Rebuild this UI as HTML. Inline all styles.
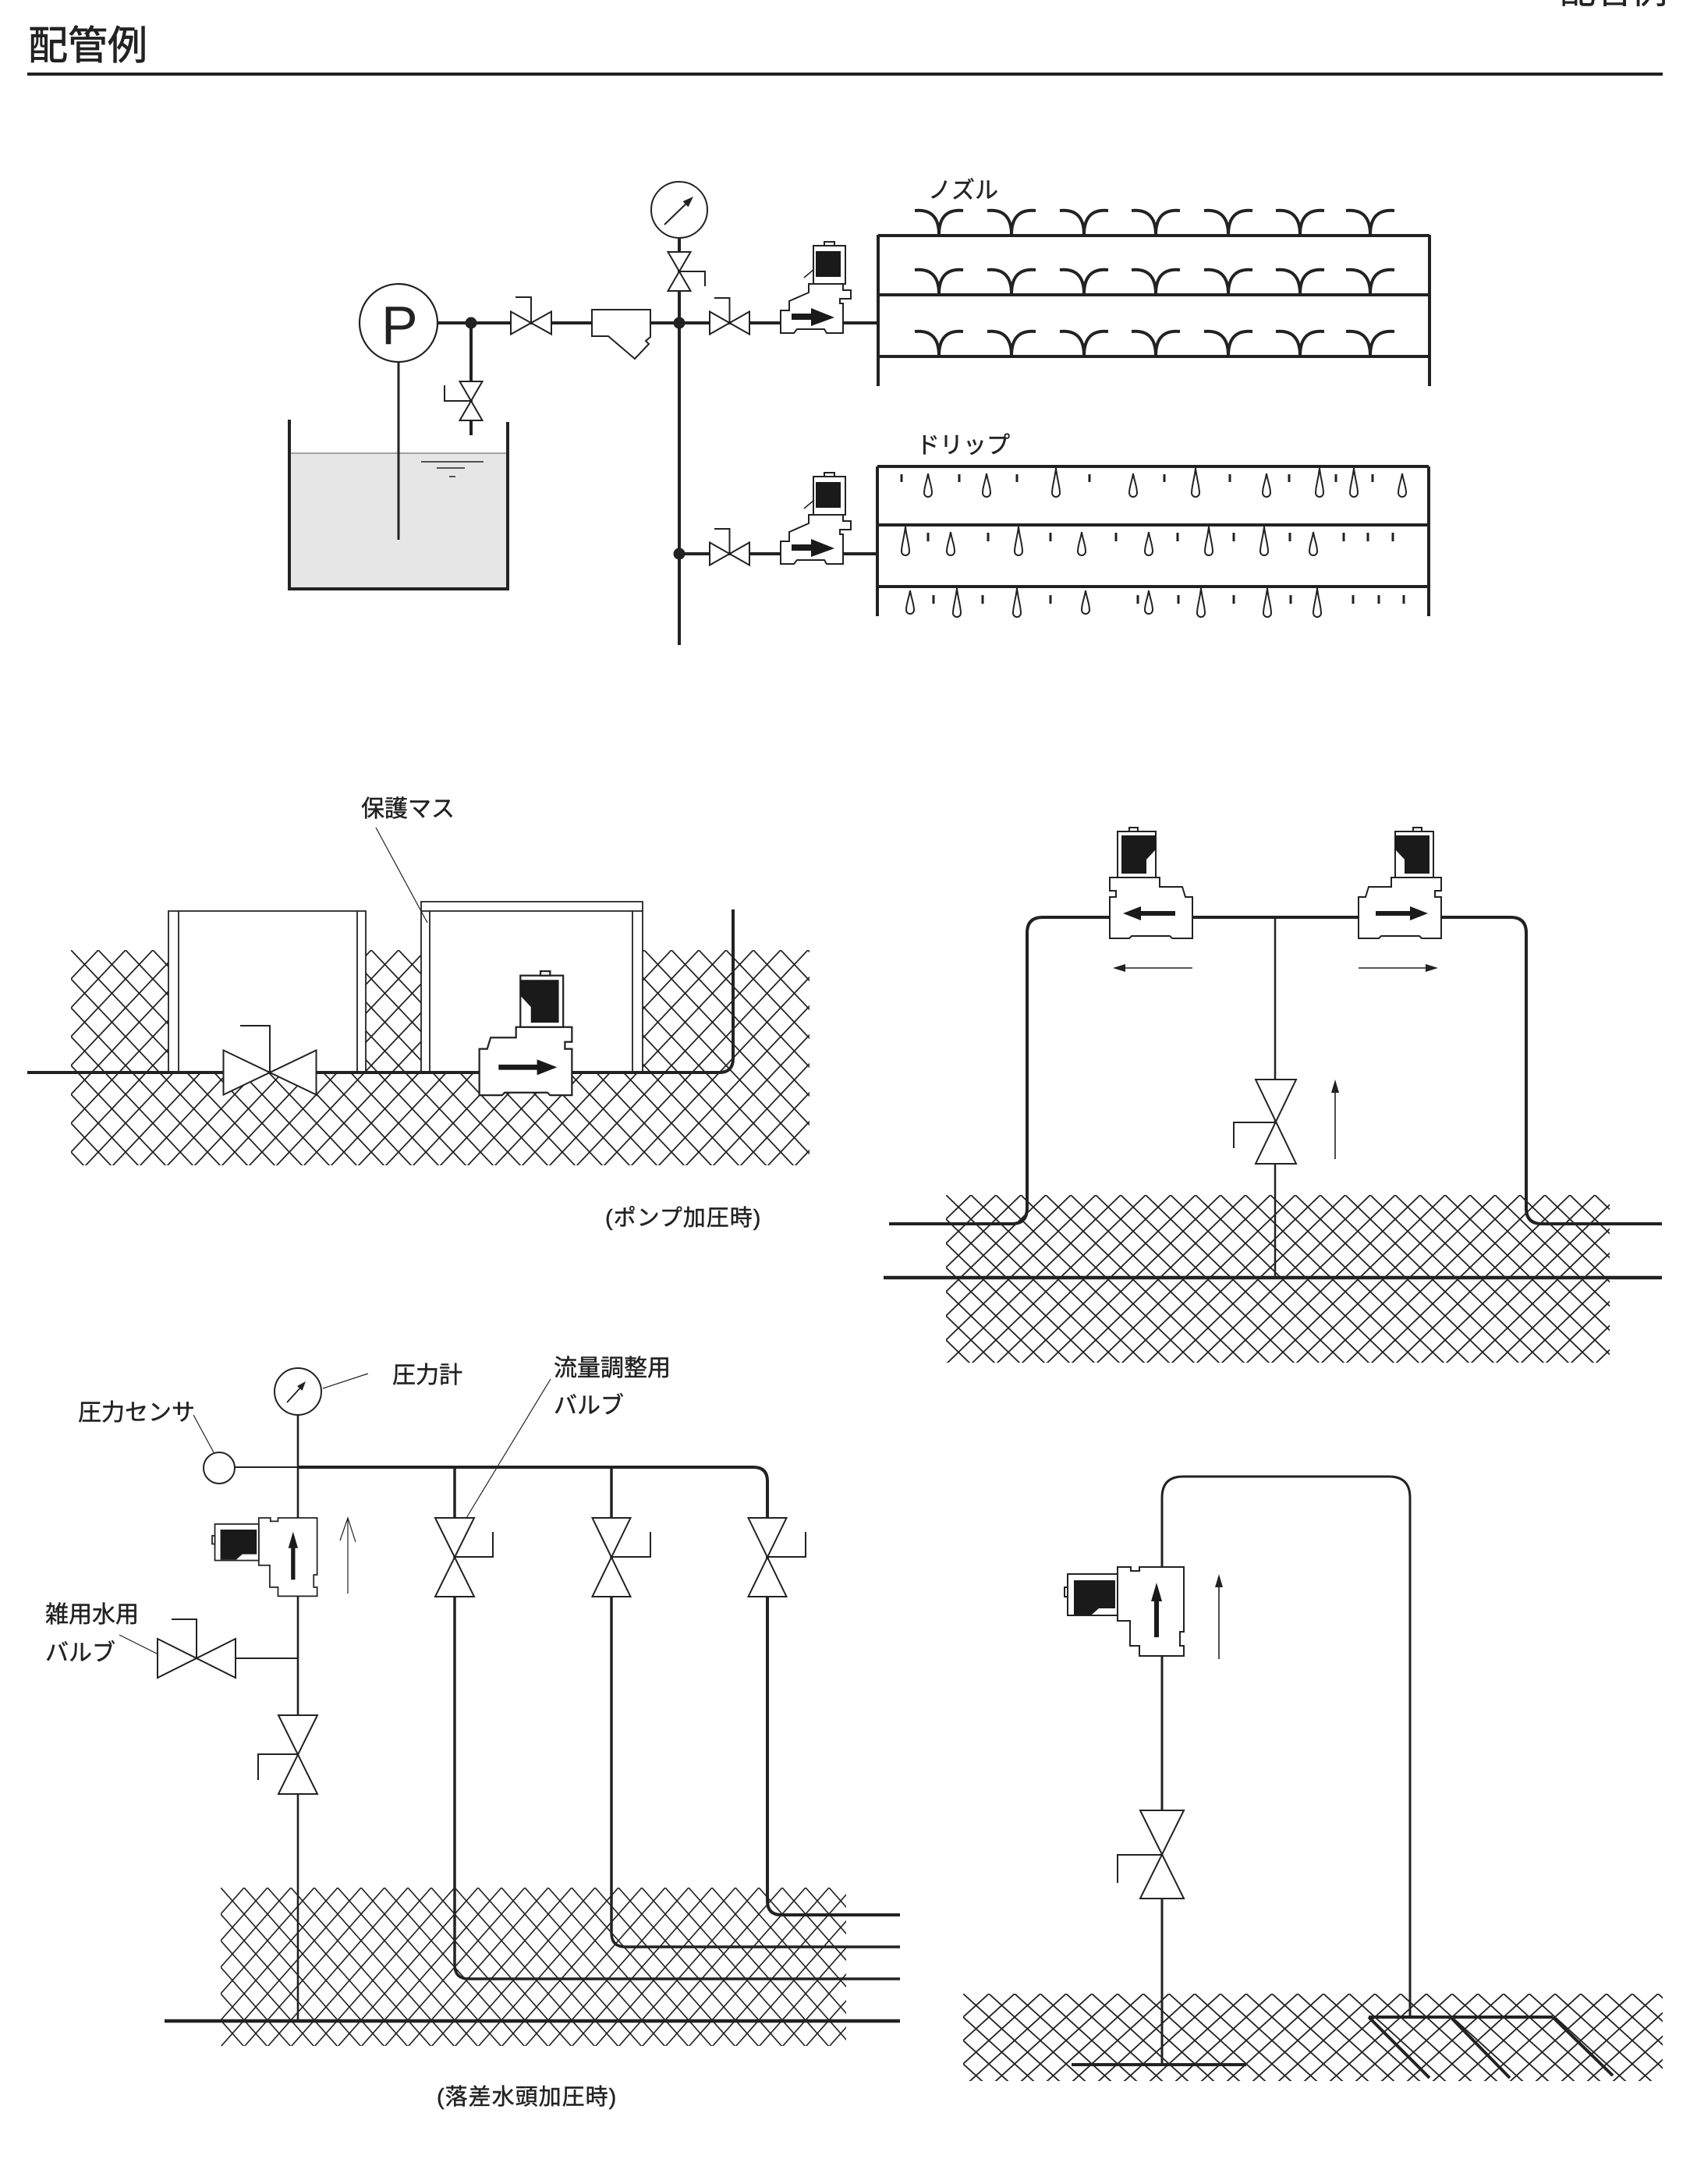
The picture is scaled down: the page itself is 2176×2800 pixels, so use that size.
<!DOCTYPE html>
<html><head><meta charset="utf-8"><style>
html,body{margin:0;padding:0;background:#fff;}
svg{display:block;}
text{font-family:"Liberation Sans","Noto Sans CJK JP",sans-serif;fill:#222;stroke:#222;stroke-width:0.45;}
</style></head><body>
<svg xmlns="http://www.w3.org/2000/svg" xmlns:xlink="http://www.w3.org/1999/xlink" width="2176" height="2800" viewBox="0 0 2176 2800">
<defs>
<pattern id="hA" patternUnits="userSpaceOnUse" x="91" y="1218" width="35" height="37"><path d="M0,0L35,37M35,0L0,37" stroke="#222" stroke-width="1.8" fill="none"/></pattern>
<pattern id="hB" patternUnits="userSpaceOnUse" x="1213" y="1532" width="32" height="31"><path d="M0,0L32,31M32,0L0,31" stroke="#222" stroke-width="1.8" fill="none"/></pattern>
<pattern id="hC" patternUnits="userSpaceOnUse" x="283" y="2420" width="30" height="34"><path d="M0,0L30,34M30,0L0,34" stroke="#222" stroke-width="1.6" fill="none"/></pattern>
<pattern id="hD" patternUnits="userSpaceOnUse" x="1235" y="2556" width="33" height="30"><path d="M0,0L33,30M33,0L0,30" stroke="#222" stroke-width="1.8" fill="none"/></pattern>

<g id="solH" stroke="#222" stroke-width="2" stroke-linejoin="miter">
 <path d="M-53,26H-28L-25,23H24L27,26H53V-27H44L40,-40H11V-52H-53V-35H-45V-27H-53Z" fill="#fff"/>
 <rect x="-43" y="-111" width="49" height="59" fill="#fff"/>
 <path d="M-38,-106H6V-88L-6,-75V-57H-38Z" fill="#1a1a1a" stroke="none"/>
 <rect x="-28" y="-116" width="11" height="5" fill="#fff"/>
 <path d="M-36,-6L-13,-15V-9H31V-3H-13V3Z" fill="#1a1a1a" stroke="none"/>
</g>

<g id="solV" stroke="#222" stroke-width="2">
 <path d="M-57,0H-40V5H-29V0H28V83H23V101H28V114H-29V101H-41V69H-57Z" fill="#fff"/>
 <rect x="-121" y="9" width="64" height="53" fill="#fff"/>
 <path d="M-113,17H-60V53H-81L-90,61H-113Z" fill="#1a1a1a" stroke="none"/>
 <rect x="-125" y="26" width="4" height="12" fill="#fff"/>
 <path d="M-7,20L0,44H-4V90H-10V44H-14Z" fill="#1a1a1a" stroke="none"/>
</g>

<g id="solT" stroke="#222" stroke-width="2">
 <path d="M1001,427H1018L1022,422H1057L1060,427H1081V389H1077V383H1091V372H1081V364H1037V375L1012,386V398H1001Z" fill="#fff"/>
 <rect x="1043" y="315" width="41" height="49" fill="#fff"/>
 <rect x="1046" y="322" width="32" height="33" fill="#1a1a1a" stroke="none"/>
 <rect x="1057" y="310" width="13" height="5" fill="#fff"/>
 <path d="M1031,356L1044,345" fill="none" stroke-width="1.5"/>
 <path d="M1015,402H1040V395L1070,407L1040,418V410H1015Z" fill="#1a1a1a" stroke="none"/>
</g>

<path id="dS" d="M0,0C1.5,10 5,17 5,25A5,5 0 0 1 -5,25C-5,17 -1.5,10 0,0Z" fill="#fff" stroke="#222" stroke-width="2"/>
<path id="dL" d="M0,0C1.5,14 5,24 5,32A5,5 0 0 1 -5,32C-5,24 -1.5,14 0,0Z" fill="#fff" stroke="#222" stroke-width="2"/>
<path id="nz" d="M-31,-31Q0,-34 0,0M31,-31Q0,-34 0,0" fill="none" stroke="#222" stroke-width="4"/>
</defs>

<rect width="2176" height="2800" fill="#fff"/>

<!-- Header -->
<text x="2000" y="4" font-size="46">配管例</text>
<text x="36" y="76" font-size="51" style="stroke-width:0.8">配管例</text>
<rect x="35" y="93" width="2097" height="4" fill="#222"/>

<!-- ================= TOP DIAGRAM ================= -->
<rect x="373" y="581" width="278" height="174" fill="#e6e6e6"/>
<path d="M373,581H651" stroke="#888" stroke-width="1.5"/>
<path d="M371,538V755H651V541" fill="none" stroke="#222" stroke-width="4"/>
<path d="M540,592H620M560,600H596M576,611H584" stroke="#222" stroke-width="1.6"/>
<path d="M511,464V692" stroke="#222" stroke-width="3"/>
<g stroke="#222" stroke-width="4" fill="none">
 <path d="M560,414H1126"/>
 <path d="M871,306V827"/>
 <path d="M871,710H1126"/>
 <path d="M604,414V558"/>
</g>
<circle cx="511" cy="414" r="50" fill="#fff" stroke="#222" stroke-width="2.2"/>
<text x="489" y="441" font-size="70" style="stroke-width:0">P</text>
<circle cx="604" cy="414" r="7.5" fill="#222"/>
<circle cx="871" cy="414" r="7.5" fill="#222"/>
<circle cx="871" cy="710" r="7.5" fill="#222"/>
<g fill="#fff" stroke="#222" stroke-width="2">
 <path d="M655,399.5L707,428.5V399.5L655,428.5Z"/>
 <path d="M910,399.5L961,428.5V399.5L910,428.5Z"/>
 <path d="M910,695.5L961,724.5V695.5L910,724.5Z"/>
 <path d="M589.5,489L618.5,539H589.5L618.5,489Z"/>
 <path d="M856.5,323L885.5,373H856.5L885.5,323Z"/>
 <path d="M759,397H834V432L828,437L832,441L814,460L780,431H759Z"/>
</g>
<g fill="none" stroke="#222" stroke-width="2">
 <path d="M681,414V381H661"/>
 <path d="M935.5,414V382H916"/>
 <path d="M935.5,710V678H916"/>
 <path d="M604,514H570V494"/>
 <path d="M871,348H904V367"/>
</g>
<circle cx="871" cy="269" r="36" fill="#fff" stroke="#222" stroke-width="2"/>
<path d="M852,288L882,259" stroke="#222" stroke-width="2"/>
<path d="M889,252L882.5,265.4L875.5,258.2Z" fill="#222"/>
<use xlink:href="#solT"/>
<use xlink:href="#solT" transform="translate(0,296)"/>

<g stroke="#222" stroke-width="4" fill="none">
 <path d="M1126,301V495M1833,301V495"/>
 <path d="M1126,302H1833M1126,378H1833M1126,457H1833"/>
</g>
<g>
 <use xlink:href="#nz" x="1204" y="301"/><use xlink:href="#nz" x="1297" y="301"/><use xlink:href="#nz" x="1390" y="301"/><use xlink:href="#nz" x="1482" y="301"/><use xlink:href="#nz" x="1575" y="301"/><use xlink:href="#nz" x="1667" y="301"/><use xlink:href="#nz" x="1757" y="301"/>
 <use xlink:href="#nz" x="1204" y="377"/><use xlink:href="#nz" x="1297" y="377"/><use xlink:href="#nz" x="1390" y="377"/><use xlink:href="#nz" x="1482" y="377"/><use xlink:href="#nz" x="1575" y="377"/><use xlink:href="#nz" x="1667" y="377"/><use xlink:href="#nz" x="1757" y="377"/>
 <use xlink:href="#nz" x="1204" y="456"/><use xlink:href="#nz" x="1297" y="456"/><use xlink:href="#nz" x="1390" y="456"/><use xlink:href="#nz" x="1482" y="456"/><use xlink:href="#nz" x="1575" y="456"/><use xlink:href="#nz" x="1667" y="456"/><use xlink:href="#nz" x="1757" y="456"/>
</g>
<text x="1190" y="254" font-size="30">ノズル</text>

<g stroke="#222" stroke-width="4" fill="none">
 <path d="M1125,598V790M1832,598V790"/>
 <path d="M1125,598H1832M1125,673H1832M1125,752H1832"/>
</g>
<text x="1175" y="581" font-size="30">ドリップ</text>
<g fill="#222">
 <rect x="1154.5" y="608" width="3" height="10"/><rect x="1228.5" y="608" width="3" height="10"/><rect x="1302.5" y="608" width="3" height="10"/><rect x="1395.5" y="608" width="3" height="10"/><rect x="1491.5" y="608" width="3" height="10"/><rect x="1575.5" y="608" width="3" height="10"/><rect x="1651.5" y="608" width="3" height="10"/><rect x="1711.5" y="608" width="3" height="10"/><rect x="1758.5" y="608" width="3" height="10"/>
 <rect x="1188.5" y="683" width="3" height="11"/><rect x="1265.5" y="683" width="3" height="11"/><rect x="1345.5" y="683" width="3" height="11"/><rect x="1429.5" y="683" width="3" height="11"/><rect x="1508.5" y="683" width="3" height="11"/><rect x="1580.5" y="683" width="3" height="11"/><rect x="1652.5" y="683" width="3" height="11"/><rect x="1721.5" y="683" width="3" height="11"/><rect x="1752.5" y="683" width="3" height="11"/><rect x="1784.5" y="683" width="3" height="11"/>
 <rect x="1195.5" y="763" width="3" height="11"/><rect x="1258.5" y="763" width="3" height="11"/><rect x="1345.5" y="763" width="3" height="11"/><rect x="1457.5" y="763" width="3" height="11"/><rect x="1509.5" y="763" width="3" height="11"/><rect x="1580.5" y="763" width="3" height="11"/><rect x="1653.5" y="763" width="3" height="11"/><rect x="1733.5" y="763" width="3" height="11"/><rect x="1766.5" y="763" width="3" height="11"/><rect x="1798.5" y="763" width="3" height="11"/>
</g>
<g>
 <use xlink:href="#dS" x="1190" y="607"/><use xlink:href="#dS" x="1265" y="607"/><use xlink:href="#dL" x="1354" y="600"/><use xlink:href="#dS" x="1453" y="607"/><use xlink:href="#dL" x="1533" y="600"/><use xlink:href="#dS" x="1624" y="607"/><use xlink:href="#dL" x="1692" y="600"/><use xlink:href="#dL" x="1736" y="600"/><use xlink:href="#dS" x="1798" y="607"/>
 <use xlink:href="#dL" x="1161" y="675"/><use xlink:href="#dS" x="1219" y="682"/><use xlink:href="#dL" x="1306" y="675"/><use xlink:href="#dS" x="1387" y="682"/><use xlink:href="#dS" x="1473" y="682"/><use xlink:href="#dL" x="1550" y="675"/><use xlink:href="#dL" x="1621" y="675"/><use xlink:href="#dS" x="1684" y="682"/>
 <use xlink:href="#dS" x="1167" y="757"/><use xlink:href="#dL" x="1227" y="754"/><use xlink:href="#dL" x="1304" y="754"/><use xlink:href="#dS" x="1392" y="757"/><use xlink:href="#dS" x="1473" y="757"/><use xlink:href="#dL" x="1540" y="754"/><use xlink:href="#dL" x="1625" y="754"/><use xlink:href="#dL" x="1689" y="754"/>
</g>

<!-- ================= MIDDLE LEFT ================= -->
<rect x="91" y="1218" width="947" height="276" fill="url(#hA)"/>
<rect x="216" y="1168" width="253" height="205" fill="#fff"/>
<rect x="540" y="1156" width="284" height="217" fill="#fff"/>
<g fill="none" stroke="#222" stroke-width="1.8">
 <path d="M216,1375V1168H469V1375M229,1168V1375M458,1168V1375"/>
 <path d="M540,1375V1156H824V1375M540,1168H824M551,1168V1375M811,1168V1375"/>
 <path d="M482,1061L548,1183" stroke-width="1.2"/>
</g>
<path d="M35,1375H922Q940,1375 940,1357V1166" fill="none" stroke="#222" stroke-width="4"/>
<path d="M286.5,1346.5L405.5,1403.5V1346.5L286.5,1403.5Z" fill="#fff" stroke="#222" stroke-width="2"/>
<path d="M346,1375V1315H308" fill="none" stroke="#222" stroke-width="2"/>
<use xlink:href="#solH" transform="translate(674,1375) scale(-1.12,1.12)"/>
<text x="463" y="1047" font-size="30">保護マス</text>
<text x="776" y="1571" font-size="29" letter-spacing="1">(ポンプ加圧時)</text>

<!-- ================= MIDDLE RIGHT ================= -->
<rect x="1213" y="1532" width="851" height="215" fill="url(#hB)"/>
<g fill="none" stroke="#222">
 <path d="M1133,1638H2131" stroke-width="4.5"/>
 <path d="M1140,1569H1297Q1317,1569 1317,1549V1196Q1317,1176 1337,1176H1937Q1957,1176 1957,1196V1549Q1957,1569 1977,1569H2131" stroke-width="4"/>
 <path d="M1635,1176V1638" stroke-width="2.5"/>
</g>
<path d="M1610,1384L1662,1492H1610L1662,1384Z" fill="#fff" stroke="#222" stroke-width="2"/>
<path d="M1636,1439H1582V1472" fill="none" stroke="#222" stroke-width="2"/>
<path d="M1712,1486V1396" stroke="#222" stroke-width="1.6"/>
<path d="M1712,1384L1707,1401H1717Z" fill="#222"/>
<use xlink:href="#solH" transform="translate(1476,1177)"/>
<use xlink:href="#solH" transform="translate(1795,1177) scale(-1,1)"/>
<path d="M1529,1241H1440M1742,1241H1831" stroke="#222" stroke-width="1.6"/>
<path d="M1427,1241L1443,1236V1246Z M1844,1241L1828,1236V1246Z" fill="#222"/>

<!-- ================= BOTTOM LEFT ================= -->
<rect x="283" y="2420" width="802" height="203" fill="url(#hC)"/>
<g fill="none" stroke="#222">
 <path d="M211,2591H1154" stroke-width="4.5"/>
 <path d="M382,1881H966Q984,1881 984,1899V2437Q984,2455 1002,2455H1154" stroke-width="4"/>
 <path d="M784,1881V2478Q784,2496 802,2496H1154" stroke-width="3.5"/>
 <path d="M583,1881V2519Q583,2537 601,2537H1154" stroke-width="3.5"/>
 <path d="M382,1814V2591" stroke-width="2.6"/>
 <path d="M301,1881H382" stroke-width="2"/>
 <path d="M302,2126H382" stroke-width="2"/>
</g>
<circle cx="281" cy="1882" r="20" fill="#fff" stroke="#222" stroke-width="2"/>
<circle cx="382" cy="1784" r="30" fill="#fff" stroke="#222" stroke-width="2"/>
<path d="M368,1798L388,1776" stroke="#222" stroke-width="1.8"/>
<path d="M392,1771L387.5,1783L381,1777Z" fill="#222"/>
<g fill="none" stroke="#222" stroke-width="1.2">
 <path d="M248,1814L274,1862"/>
 <path d="M414,1780L472,1761"/>
 <path d="M706,1768L598,1946"/>
 <path d="M153,2096L203,2121"/>
</g>
<g fill="#fff" stroke="#222" stroke-width="2">
 <path d="M558,1946L608,2047H558L608,1946Z"/>
 <path d="M759.5,1946L808.5,2047H759.5L808.5,1946Z"/>
 <path d="M959.5,1946L1008.5,2047H959.5L1008.5,1946Z"/>
 <path d="M202,2101L302,2151V2101L202,2151Z"/>
 <path d="M357,2199L407,2300H357L407,2199Z"/>
</g>
<g fill="none" stroke="#222" stroke-width="2">
 <path d="M583,1996H632V1964"/>
 <path d="M784,1996H834V1964"/>
 <path d="M984,1996H1033V1964"/>
 <path d="M252,2126V2076H220"/>
 <path d="M382,2249H331V2282"/>
</g>
<use xlink:href="#solV" transform="translate(382,1946) scale(0.88)"/>
<path d="M446,2043V1948M436,1975L446,1946L456,1977" fill="none" stroke="#222" stroke-width="1.2"/>
<text x="100" y="1821" font-size="30">圧力センサ</text>
<text x="503" y="1773" font-size="30">圧力計</text>
<text x="710" y="1764" font-size="30">流量調整用</text>
<text x="710" y="1812" font-size="30">バルブ</text>
<text x="58" y="2080" font-size="30">雑用水用</text>
<text x="58" y="2129" font-size="30">バルブ</text>
<text x="560" y="2698" font-size="29" letter-spacing="1">(落差水頭加圧時)</text>

<!-- ================= BOTTOM RIGHT ================= -->
<rect x="1235" y="2556" width="897" height="112" fill="url(#hD)"/>
<g fill="none" stroke="#222">
 <path d="M1490,2647V1920Q1490,1893 1517,1893H1781Q1808,1893 1808,1920V2586" stroke-width="3"/>
 <path d="M1374,2647H1598" stroke-width="4"/>
 <path d="M1755,2586H1991M1755,2586L1833,2664M1860,2586L1936,2664M1991,2586L2068,2661" stroke-width="4"/>
</g>
<path d="M1462,2321L1518,2434H1462L1518,2321Z" fill="#fff" stroke="#222" stroke-width="2"/>
<path d="M1490,2378H1433V2414" fill="none" stroke="#222" stroke-width="2"/>
<use xlink:href="#solV" transform="translate(1490,2009)"/>
<path d="M1563,2127V2030" stroke="#222" stroke-width="1.6"/>
<path d="M1563,2018L1558,2035H1568Z" fill="#222"/>
</svg>
</body></html>
